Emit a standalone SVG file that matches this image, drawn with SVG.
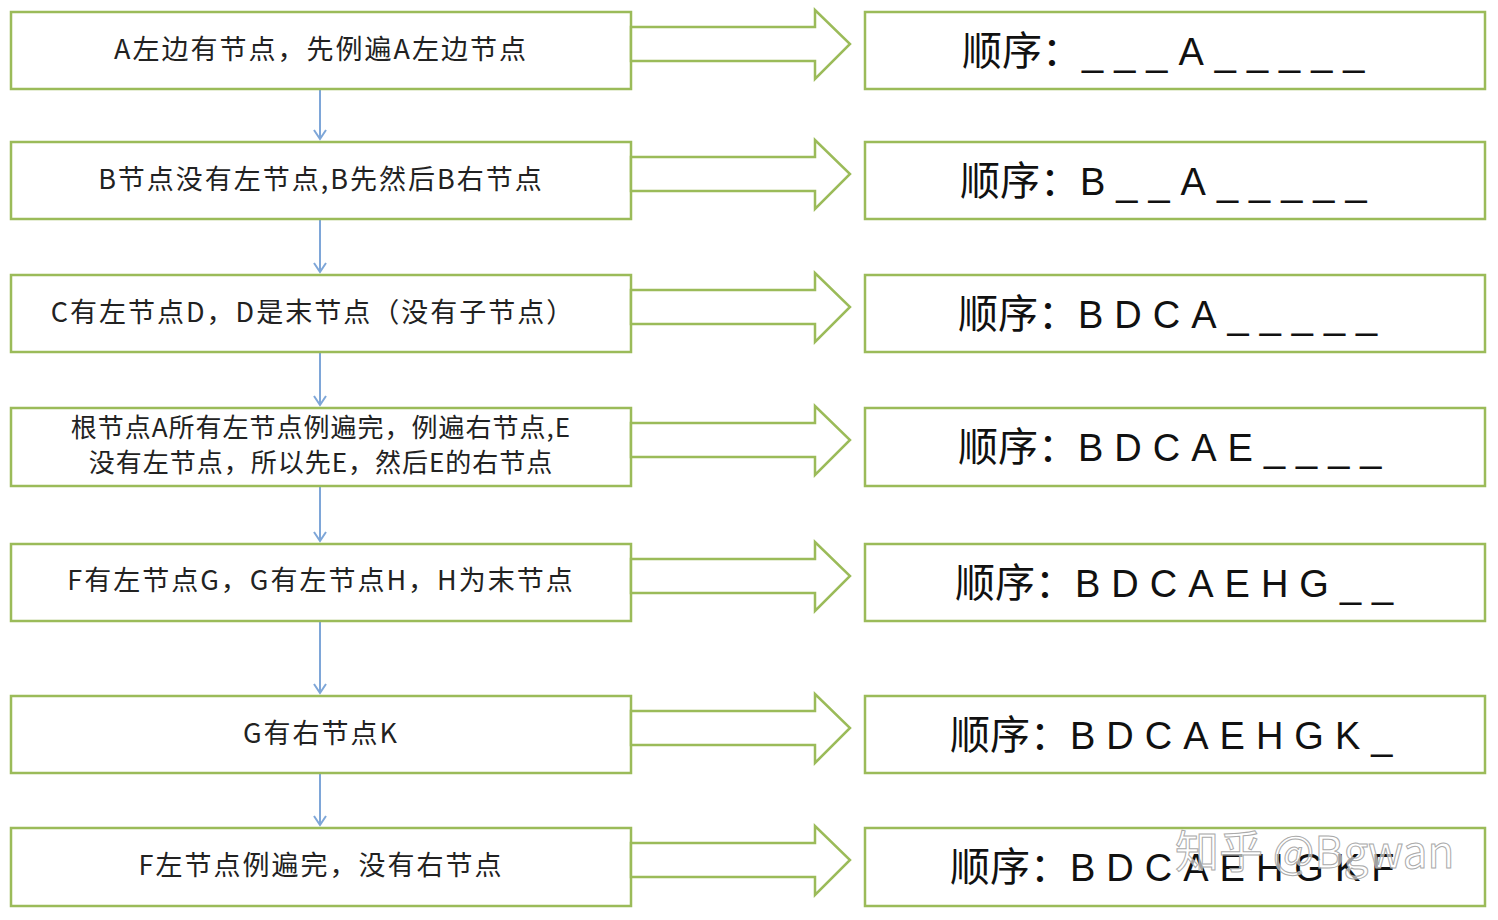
<svg xmlns="http://www.w3.org/2000/svg" width="1498" height="920" viewBox="0 0 1498 920">
<defs>
<style>
.box{fill:#fff;stroke:#9bbb59;stroke-width:2.5}
.ba{fill:#fff;stroke:#9bbb59;stroke-width:2.5;stroke-linejoin:miter}
.lt{font-family:"Noto Sans CJK SC","Noto Sans",sans-serif;font-size:27px;letter-spacing:2px;fill:#222;text-anchor:middle}
.lt2{font-size:26px;letter-spacing:1px}
.rt{font-family:"Noto Sans CJK SC","Liberation Sans",sans-serif;font-size:40px;fill:#111}
.rl{font-family:"Liberation Sans",sans-serif;font-size:38px;letter-spacing:11px}
.c{stroke:#7ea6d8;stroke-width:2;fill:none}
</style>
<marker id="ah" markerWidth="14" markerHeight="14" refX="10" refY="7" orient="auto" markerUnits="userSpaceOnUse">
<path d="M1,1 L10,7 L1,13" fill="none" stroke="#7ea6d8" stroke-width="2"/>
</marker>
</defs>
<rect width="1498" height="920" fill="#fff"/>
<g id="connectors">
<line class="c" x1="320" y1="90" x2="320" y2="139" marker-end="url(#ah)"/>
<line class="c" x1="320" y1="220" x2="320" y2="272" marker-end="url(#ah)"/>
<line class="c" x1="320" y1="353" x2="320" y2="405" marker-end="url(#ah)"/>
<line class="c" x1="320" y1="487" x2="320" y2="541" marker-end="url(#ah)"/>
<line class="c" x1="320" y1="622" x2="320" y2="693" marker-end="url(#ah)"/>
<line class="c" x1="320" y1="774" x2="320" y2="825" marker-end="url(#ah)"/>
</g>
<g id="n1"><rect class="box" x="11" y="12" width="620" height="77"/><text class="lt" x="321" y="59">A左边有节点，先例遍A左边节点</text></g>
<g id="n2"><rect class="box" x="11" y="142" width="620" height="77"/><text class="lt" x="321" y="189">B节点没有左节点,B先然后B右节点</text></g>
<g id="n3"><rect class="box" x="11" y="275" width="620" height="77"/><text class="lt" x="313" y="322">C有左节点D，D是末节点（没有子节点）</text></g>
<g id="n4"><rect class="box" x="11" y="408" width="620" height="78"/><text class="lt lt2" x="321" y="437">根节点A所有左节点例遍完，例遍右节点,E</text><text class="lt lt2" x="321" y="472">没有左节点，所以先E，然后E的右节点</text></g>
<g id="n5"><rect class="box" x="11" y="544" width="620" height="77"/><text class="lt" x="321" y="590">F有左节点G，G有左节点H，H为末节点</text></g>
<g id="n6"><rect class="box" x="11" y="696" width="620" height="77"/><text class="lt" x="321" y="743">G有右节点K</text></g>
<g id="n7"><rect class="box" x="11" y="828" width="620" height="78"/><text class="lt" x="321" y="875">F左节点例遍完，没有右节点</text></g>
<g id="arrows">
<path class="ba" d="M631,27 H815 V10 L850,44 L815,79 V61 H631 Z"/>
<path class="ba" d="M631,157 H815 V140 L850,174 L815,209 V191 H631 Z"/>
<path class="ba" d="M631,290 H815 V273 L850,307 L815,342 V324 H631 Z"/>
<path class="ba" d="M631,423 H815 V406 L850,440 L815,475 V457 H631 Z"/>
<path class="ba" d="M631,559 H815 V542 L850,576 L815,611 V593 H631 Z"/>
<path class="ba" d="M631,711 H815 V694 L850,728 L815,763 V745 H631 Z"/>
<path class="ba" d="M631,843 H815 V826 L850,860 L815,895 V877 H631 Z"/>
</g>
<g id="r1"><rect class="box" x="865" y="12" width="620" height="77"/><text class="rt" x="962" y="65">顺序：<tspan class="rl">___A_____</tspan></text></g>
<g id="r2"><rect class="box" x="865" y="142" width="620" height="77"/><text class="rt" x="960" y="195">顺序：<tspan class="rl">B__A_____</tspan></text></g>
<g id="r3"><rect class="box" x="865" y="275" width="620" height="77"/><text class="rt" x="958" y="328">顺序：<tspan class="rl">BDCA_____</tspan></text></g>
<g id="r4"><rect class="box" x="865" y="408" width="620" height="78"/><text class="rt" x="958" y="461">顺序：<tspan class="rl">BDCAE____</tspan></text></g>
<g id="r5"><rect class="box" x="865" y="544" width="620" height="77"/><text class="rt" x="955" y="597">顺序：<tspan class="rl">BDCAEHG__</tspan></text></g>
<g id="r6"><rect class="box" x="865" y="696" width="620" height="77"/><text class="rt" x="950" y="749">顺序：<tspan class="rl">BDCAEHGK_</tspan></text></g>
<g id="r7"><rect class="box" x="865" y="828" width="620" height="78"/><text class="rt" x="950" y="881">顺序：<tspan class="rl">BDCAEHGKF</tspan></text></g>
<text x="1175" y="868" font-family="Noto Sans CJK SC,sans-serif" font-size="44" fill="#fff" fill-opacity="0.6" stroke="#aaa" stroke-width="1">知乎 @Bgwan</text>
</svg>
